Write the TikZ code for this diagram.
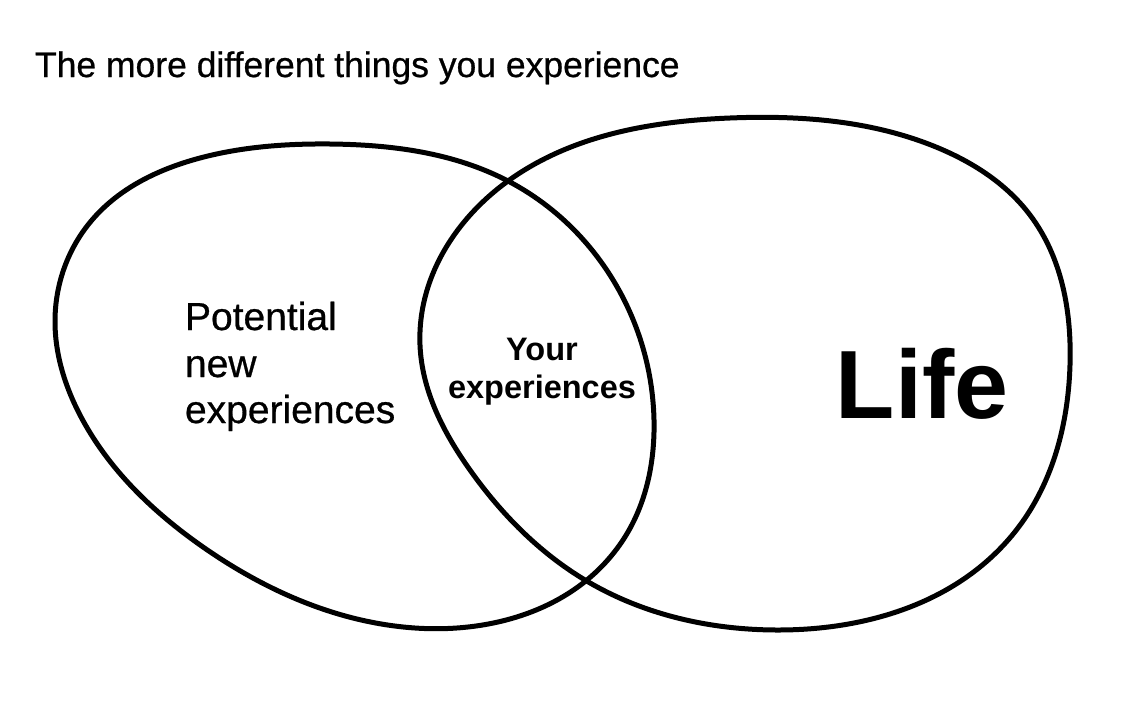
\documentclass[tikz,border=0pt]{standalone}
\usepackage{fontspec}
\setmainfont{Liberation Sans}
\newfontfamily\medfont[FakeBold=0.7]{Liberation Sans}
\usetikzlibrary{hobby}
\begin{document}
\begin{tikzpicture}[x=1pt,y=-1pt,
  blob/.style={draw=black,line width=5pt,use Hobby shortcut,closed=true},
  lbl/.style={inner sep=0pt,outer sep=0pt}]
\useasboundingbox (0,0) rectangle (1145,707);
\fill[white] (0,0) rectangle (1145,707);
% left blob (potential new experiences)
\draw[blob] (55,320) .. (92,220) .. (200,158) .. (330,144) .. (508,181)
  .. (632,317) .. (654,420) .. (621,543) .. (415,628) .. (203,547) .. (80,415);
% right blob (life)
\draw[blob] (420,345) .. (508,181) .. (730,118) .. (936,147) .. (1030,215)
  .. (1070,365) .. (1014,533) .. (779,630) .. (585,580) .. (470,470);
% texts
\node[lbl,anchor=base west,font=\medfont\fontsize{35.5}{40}\selectfont] (title) at (35,77) {The more different things you experience};
\node[lbl,anchor=base west,font=\medfont\fontsize{39}{46}\selectfont] (pot1) at (185,330) {Potential};
\node[lbl,anchor=base west,font=\medfont\fontsize{39}{46}\selectfont] (pot2) at (185,377) {new};
\node[lbl,anchor=base west,font=\medfont\fontsize{39}{46}\selectfont] (pot3) at (185,423) {experiences};
\node[lbl,anchor=base,font=\bfseries\fontsize{32.5}{37}\selectfont] (your1) at (542,360) {Your};
\node[lbl,anchor=base,font=\bfseries\fontsize{32.5}{37}\selectfont] (your2) at (542,398) {experiences};
\node[lbl,anchor=base,font=\bfseries\fontsize{97}{110}\selectfont] (life) at (922,418) {Life};
\end{tikzpicture}
\end{document}
